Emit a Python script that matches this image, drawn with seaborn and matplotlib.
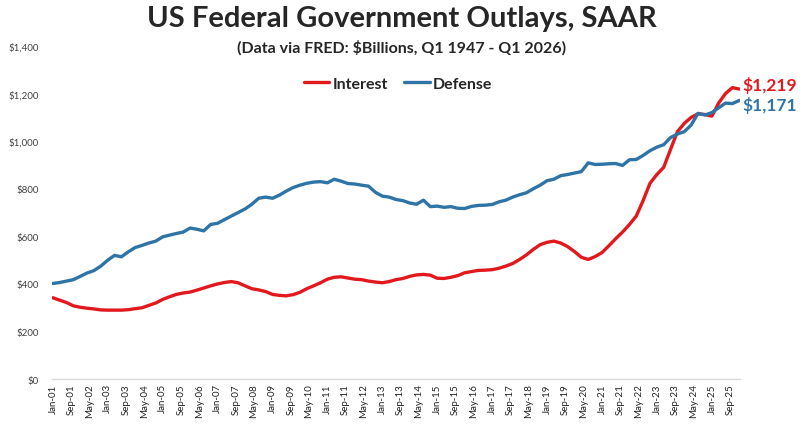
import pandas as pd
import seaborn as sns
import matplotlib.pyplot as plt
import matplotlib.dates as mdates
from matplotlib.ticker import FuncFormatter

# Quarterly, Q1 2001 - Q1 2026, $ billions SAAR
quarters = pd.date_range("2001-01-01", periods=101, freq="QS")

interest = [
    342, 332, 322, 308, 302, 298, 295, 291, 290, 290, 290, 292,
    296, 300, 310, 320, 335, 346, 356, 362, 366, 374, 383, 392,
    400, 406, 410, 405, 392, 380, 375, 368, 356, 352, 350, 355,
    365, 380, 392, 405, 420, 428, 430, 425, 420, 418, 412, 408,
    405, 410, 418, 423, 432, 438, 440, 437, 424, 423, 428, 435,
    447, 452, 457, 458, 460, 466, 475, 486, 503, 522, 545, 565,
    575, 580, 572, 557, 536, 512, 503, 515, 532, 560, 590, 618,
    650, 685, 750, 823, 860, 890, 965, 1040, 1075, 1100, 1115, 1112,
    1105, 1160, 1200, 1225, 1219,
]

defense = [
    402, 406, 412, 418, 432, 446, 456, 475, 500, 520, 514, 535,
    553, 562, 572, 580, 598, 605, 612, 618, 635, 630, 623, 650,
    655, 670, 685, 700, 715, 735, 760, 765, 760, 773, 790, 805,
    815, 823, 828, 830, 825, 840, 832, 822, 820, 815, 811, 785,
    769, 765, 755, 750, 740, 735, 752, 725, 727, 722, 725, 718,
    717, 726, 730, 731, 734, 745, 752, 765, 775, 783, 800, 815,
    834, 840, 855, 860, 866, 872, 909, 902, 903, 905, 906, 898,
    922, 923, 940, 960, 975, 985, 1015, 1030, 1040, 1068, 1117, 1110,
    1120, 1140, 1160, 1158, 1171,
]

series_names = ["Interest", "Defense"]
colors = {"Interest": "#E1191D", "Defense": "#2E74A6"}

tick_dates = pd.date_range("2001-01-01", "2025-09-01", freq="8MS")

df = pd.DataFrame({"Date": quarters, "Interest": interest, "Defense": defense})
df_long = df.melt(id_vars="Date", var_name="Series", value_name="Value")

sns.set_style("white")
plt.rcParams["font.family"] = ["Lato", "DejaVu Sans"]

fig = plt.figure(figsize=(8.04, 4.31), dpi=100)
ax = fig.add_axes([0.065, 0.118, 0.855, 0.773])

sns.lineplot(data=df_long, x="Date", y="Value", hue="Series",
             hue_order=series_names, palette=colors, linewidth=2.4, ax=ax)

ax.set_ylim(0, 1400)
ax.set_yticks(range(0, 1401, 200))
ax.yaxis.set_major_formatter(FuncFormatter(lambda v, p: f"${v:,.0f}"))
ax.set_xlim(quarters[0] - pd.Timedelta(days=8), quarters[-1] + pd.Timedelta(days=5))
ax.set_xticks(tick_dates)
ax.xaxis.set_major_formatter(mdates.DateFormatter("%b-%y"))
ax.tick_params(axis="x", labelrotation=90, labelsize=7, pad=3, length=0, colors="#222222")
ax.tick_params(axis="y", labelsize=7, pad=10, length=0, colors="#404040")
ax.set_xlabel("")
ax.set_ylabel("")

for s in ["top", "right", "left"]:
    ax.spines[s].set_visible(False)
ax.spines["bottom"].set_color("#D9D9D9")
ax.spines["bottom"].set_linewidth(1)

leg = ax.legend(loc="center", bbox_to_anchor=(0.503, 0.887), ncol=2, frameon=False,
                handlelength=1.6, handletextpad=0.2, columnspacing=1.0,
                prop={"weight": "bold", "size": 11.5})

# end-of-line value labels
ax.annotate(f"${interest[-1]:,}", (quarters[-1], interest[-1]), xytext=(2, 3),
            textcoords="offset points", color=colors["Interest"], fontsize=12.5,
            fontweight="bold", va="center", annotation_clip=False)
ax.annotate(f"${defense[-1]:,}", (quarters[-1], defense[-1]), xytext=(2, -3),
            textcoords="offset points", color=colors["Defense"], fontsize=12.5,
            fontweight="bold", va="center", annotation_clip=False)

fig.text(0.5, 0.955, "US Federal Government Outlays, SAAR", ha="center", va="center",
         fontsize=21, fontweight="bold")
fig.text(0.5, 0.888, "(Data via FRED: $Billions, Q1 1947 - Q1 2026)", ha="center",
         va="center", fontsize=11.5, fontweight="bold")

fig.savefig("out.png", dpi=100)
